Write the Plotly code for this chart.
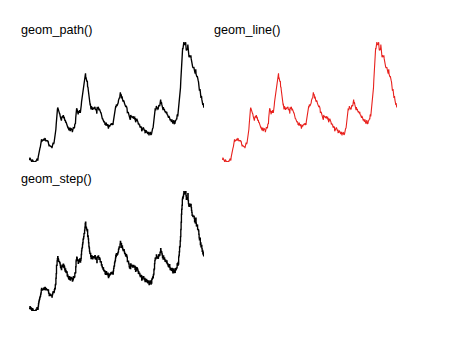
import pandas as pd
import plotly.graph_objects as go

# US unemployment (thousands), monthly from 1967-07 to 2015-04
unemploy = [
    2944, 2945, 2958, 3143, 3066, 3018,
    2878, 3001, 2877, 2709, 2740, 2938, 2883, 2768, 2686, 2689, 2715, 2685,
    2718, 2692, 2712, 2758, 2713, 2816, 2868, 2856, 3040, 3049, 2856, 2884,
    3201, 3453, 3635, 3797, 3919, 4071, 4175, 4256, 4456, 4591, 4898, 5076,
    4986, 4903, 4987, 4959, 4996, 4949, 5035, 5134, 5042, 4954, 5161, 5154,
    5019, 4928, 5038, 4959, 4922, 4923, 4913, 4939, 4849, 4875, 4602, 4543,
    4326, 4452, 4394, 4459, 4329, 4363, 4305, 4305, 4350, 4144, 4396, 4489,
    4644, 4731, 4634, 4618, 4705, 4927, 5063, 5022, 5437, 5523, 6140, 6636,
    7501, 7520, 7978, 8210, 8433, 8220, 8127, 7928, 7923, 7897, 7794, 7744,
    7534, 7326, 7230, 7330, 7053, 7322, 7490, 7518, 7380, 7430, 7620, 7545,
    7280, 7443, 7307, 7059, 6911, 7134, 6829, 6925, 6751, 6763, 6815, 6386,
    6489, 6318, 6337, 6180, 6127, 6028, 6309, 6080, 6125, 5947, 6077, 6228,
    6109, 6173, 6109, 6069, 5840, 5959, 5996, 6320, 6190, 6296, 6238, 6325,
    6683, 6702, 6729, 7358, 7984, 8098, 8363, 8281, 8021, 8088, 8023, 7718,
    8071, 8051, 7982, 7869, 8174, 8098, 7863, 8036, 8230, 8646, 9029, 9267,
    9397, 9705, 9895, 10244, 10335, 10538, 10849, 10881, 11217, 11529, 11938, 12051,
    11534, 11545, 11408, 11268, 11154, 11246, 10548, 10623, 10282, 9887, 9499, 9331,
    9008, 8791, 8746, 8762, 8456, 8226, 8537, 8519, 8367, 8381, 8198, 8358,
    8423, 8321, 8339, 8395, 8302, 8460, 8513, 8196, 8248, 8298, 8128, 8138,
    7795, 8402, 8383, 8364, 8439, 8508, 8319, 8135, 8310, 8243, 8159, 7883,
    7892, 7865, 7862, 7542, 7574, 7398, 7268, 7261, 7102, 7227, 7035, 6936,
    6953, 6929, 6876, 6601, 6779, 6546, 6605, 6843, 6604, 6568, 6537, 6518,
    6682, 6359, 6205, 6468, 6375, 6577, 6495, 6511, 6590, 6630, 6725, 6667,
    6752, 6651, 6598, 6797, 6742, 6590, 6922, 7188, 7368, 7459, 7764, 7901,
    8015, 8265, 8586, 8439, 8736, 8692, 8586, 8666, 8722, 8842, 8931, 9198,
    9283, 9454, 9460, 9415, 9744, 10040, 9850, 9787, 9781, 9398, 9565, 9557,
    9325, 9183, 9056, 9110, 9149, 9121, 8930, 8763, 8714, 8750, 8542, 8477,
    8630, 8583, 8470, 8331, 7915, 7927, 7946, 7933, 7734, 7632, 7375, 7230,
    7375, 7187, 7153, 7645, 7430, 7427, 7527, 7484, 7478, 7328, 7426, 7423,
    7491, 7313, 7318, 7415, 7423, 7095, 7337, 6882, 6979, 7031, 7236, 7253,
    7158, 7102, 7000, 6873, 6655, 6799, 6655, 6608, 6656, 6454, 6308, 6476,
    6368, 6306, 6422, 5941, 6047, 6212, 6259, 6179, 6300, 6280, 6100, 6032,
    5976, 6111, 5783, 6004, 5796, 5951, 6025, 5838, 5915, 5778, 5716, 5653,
    5708, 5858, 5733, 5481, 5758, 5651, 5747, 5853, 5625, 5534, 5639, 5634,
    6023, 6089, 6141, 6271, 6226, 6484, 6583, 7042, 7142, 7694, 8003, 8258,
    8182, 8215, 8304, 8599, 8399, 8393, 8390, 8304, 8251, 8307, 8520, 8640,
    8520, 8618, 8588, 8842, 8957, 9266, 9011, 8896, 8921, 8732, 8576, 8317,
    8370, 8167, 8491, 8170, 8212, 8286, 8136, 7990, 7927, 8061, 7932, 7934,
    7784, 7980, 7737, 7672, 7651, 7524, 7406, 7345, 7553, 7453, 7566, 7279,
    7064, 7184, 7072, 7120, 6980, 7001, 7175, 7091, 6847, 6727, 6872, 6762,
    7116, 6927, 6731, 6850, 6766, 6979, 7149, 7067, 7170, 7237, 7240, 7645,
    7685, 7497, 7822, 7637, 8395, 8575, 8937, 9438, 9494, 10074, 10538, 11286,
    12058, 12898, 13426, 13853, 14499, 14707, 14601, 14814, 15009, 15352, 15219, 15098,
    15046, 15113, 15202, 15325, 14849, 14474, 14512, 14648, 14579, 14516, 15081, 14348,
    14013, 13820, 13737, 13957, 13855, 13962, 13763, 13818, 13948, 13594, 13302, 13093,
    12797, 12813, 12713, 12646, 12660, 12692, 12656, 12471, 12115, 12124, 12005, 12298,
    12471, 11950, 11689, 11760, 11654, 11751, 11335, 11279, 11270, 11136, 10787, 10404,
    10202, 10349, 10380, 9702, 9859, 9460, 9608, 9599, 9262, 8990, 9090, 8717,
    8903, 8610, 8504, 8526,
]
dates = pd.date_range("1967-07-01", periods=len(unemploy), freq="MS")

titles = ["geom_path()", "geom_line()", "geom_step()"]
colors = ["black", "#e8211d", "black"]
widths = [1.35, 1.1, 1.35]
shapes = ["linear", "linear", "hv"]

W, H = 474, 338
# panel pixel boxes: (x0, x1, ytop, ybottom) for data extent
boxes = [(29, 204, 42, 162), (222, 397, 42, 162), (29, 204, 191, 311)]
title_pos = [(18.5, 30), (211.5, 30), (18.5, 179)]

fig = go.Figure()
ymin, ymax = min(unemploy), max(unemploy)
for i in range(3):
    ax = "" if i == 0 else str(i + 1)
    fig.add_trace(go.Scatter(
        x=dates, y=unemploy, mode="lines",
        line=dict(color=colors[i], width=widths[i], shape=shapes[i]),
        xaxis="x" + ax, yaxis="y" + ax, showlegend=False, hoverinfo="skip",
    ))
    x0, x1, yt, yb = boxes[i]
    axis_common = dict(visible=False, showgrid=False, zeroline=False, fixedrange=True)
    fig.layout["xaxis" + ax] = dict(
        domain=[x0 / W, x1 / W], range=[dates[0], dates[-1]],
        anchor="y" + ax, **axis_common)
    fig.layout["yaxis" + ax] = dict(
        domain=[1 - yb / H, 1 - yt / H], range=[ymin, ymax],
        anchor="x" + ax, **axis_common)
    tx, ty = title_pos[i]
    fig.add_annotation(
        text=titles[i], xref="paper", yref="paper",
        x=tx / W, y=1 - ty / H, xanchor="left", yanchor="middle",
        showarrow=False, font=dict(family="Liberation Sans, Arial", size=12.6, color="black"),
    )

fig.update_layout(
    width=W, height=H, margin=dict(l=0, r=0, t=0, b=0),
    paper_bgcolor="white", plot_bgcolor="white",
)
fig.write_html("out.html")
